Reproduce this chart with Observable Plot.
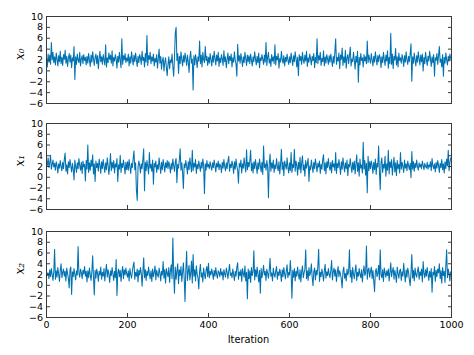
<!DOCTYPE html>
<html><head><meta charset="utf-8">
<script src="https://cdn.jsdelivr.net/npm/d3@7"></script>
<script src="https://cdn.jsdelivr.net/npm/@observablehq/plot@0.6"></script>
<style>
body{margin:0;background:#fff}
#c{position:relative;width:474px;height:355px}
#c svg{position:absolute;left:0}
</style>
</head><body><div id="c"></div>
<script>
// Trace values, one value every 2 iterations (iteration = index * step)
const step = 2;
const x0 = [
2.4,0.7,3.1,1.6,2.9,1.2,5.2,2.0,3.4,1.5, 2.6,1.1,3.3,2.2,0.9,2.8,1.7,3.6,1.3,2.5, 1.0,3.0,2.1,3.8,1.4,2.7,0.8,2.3,3.2,1.6, 2.9,0.6,2.4,1.8,4.5,-1.6,2.6,1.2,3.1,2.0, 1.5,3.4,0.9,2.2,2.8,1.3,3.0,1.9,2.5,1.1,
2.7,1.4,3.2,2.0,0.8,2.9,1.6,3.5,2.2,1.0, 2.5,3.1,1.3,2.8,0.4,2.3,3.6,1.7,2.6,1.2, 3.0,2.0,1.1,4.8,0.7,2.4,1.5,3.3,2.1,2.9, 1.4,3.7,0.9,2.5,1.8,3.0,2.2,0.5,2.7,1.6, 3.4,1.9,0.6,5.9,1.2,2.8,2.0,3.2,1.5,2.4,
1.8,3.1,0.9,2.6,1.4,3.5,2.2,1.1,2.9,1.7, 3.3,2.0,0.8,2.7,1.5,3.0,2.4,1.2,3.6,1.9, 2.5,0.7,3.2,1.6,6.5,1.0,2.8,2.1,3.4,1.3, 2.6,1.8,3.1,0.9,2.3,1.6,3.0,0.5,2.2,4.0, 1.4,2.7,0.3,1.9,2.5,0.0,1.6,2.4,0.6,-0.9,
1.2,2.6,0.4,2.0,1.5,3.1,0.8,-1.0,2.4,7.0, 8.0,1.9,3.2,-0.5,2.7,1.3,3.5,2.1,0.9,2.8, 1.6,3.3,2.3,1.0,2.9,1.7,-0.3,2.5,3.6,1.4, 2.2,-3.5,2.8,1.1,3.0,2.0,0.6,2.6,1.8,5.5, 1.3,2.9,0.7,3.4,2.1,1.5,4.5,1.9,2.7,1.0,
2.5,1.4,3.2,2.0,0.9,2.8,1.6,3.6,2.3,1.1, 2.9,1.8,3.4,0.8,2.4,1.5,3.0,2.2,1.0,3.7, 1.7,2.6,0.6,2.1,3.3,1.3,2.7,1.9,3.1,0.7, 2.4,1.6,3.5,2.0,1.2,-1.0,4.9,1.8,2.8,1.4, 3.2,2.1,0.8,2.6,1.5,3.4,2.3,1.0,2.9,1.7,
2.8,1.3,3.1,2.0,0.9,2.6,1.7,3.5,2.2,1.1, 2.7,1.5,3.3,0.6,2.4,1.9,3.0,2.1,1.2,2.9, 1.6,5.2,1.0,2.5,3.4,1.4,2.2,0.8,3.0,1.8, 2.6,1.3,4.8,1.1,2.7,2.0,3.2,0.5,2.3,1.6, 3.6,2.1,1.4,2.8,0.9,2.5,1.7,3.1,2.0,1.2,
2.6,1.5,3.3,2.1,1.0,2.8,1.7,3.5,2.3,0.7, 2.5,-0.9,3.0,1.9,2.7,1.2,3.4,2.0,1.4,2.9, 1.8,3.6,0.8,2.4,1.6,3.1,2.2,1.1,2.7,1.9, 3.2,0.6,2.5,1.5,5.9,1.3,2.8,2.0,3.4,1.0, 2.3,1.7,3.7,0.9,2.6,1.4,3.0,2.2,1.2,2.8,
1.6,3.1,2.0,0.8,2.7,1.4,3.5,5.9,1.2,2.5, 1.8,3.3,0.4,2.9,2.1,4.2,1.0,2.6,1.5,3.8, 0.5,2.4,3.0,1.3,2.8,4.4,0.9,2.2,1.7,3.4, 2.0,0.3,2.7,1.6,3.6,-2.1,2.5,1.1,3.2,1.9, 2.4,0.7,3.0,1.8,2.6,1.3,5.5,1.5,2.9,2.1,
1.4,3.2,2.0,0.9,2.7,1.6,3.5,2.2,1.1,2.8, 1.7,3.0,2.4,0.6,2.6,1.5,3.4,2.1,1.0,2.9, 1.8,3.7,0.5,2.5,1.3,6.9,1.2,3.1,0.4,2.7, 2.0,4.1,1.1,2.6,0.7,3.3,1.9,2.4,1.4,3.0, 2.2,0.8,2.8,1.6,3.5,2.0,1.2,2.7,1.7,3.2,
5.0,-1.9,2.6,1.4,3.3,2.0,0.9,2.8,1.6,3.5, 2.2,1.1,2.9,1.7,3.1,0.0,2.5,1.3,3.4,2.1, 1.0,2.7,1.8,3.6,2.3,0.8,2.6,1.5,3.0,-1.0, 2.4,1.9,3.2,1.2,2.8,4.5,1.6,2.2,0.7,3.0, -1.0,2.5,1.4,3.3,2.0,1.1,2.7,1.8,3.1,2.3
];
const x1 = [
3.0,2.2,3.6,1.8,2.7,4.1,1.5,2.4,3.2,1.9, 2.6,1.3,2.9,2.1,0.8,2.5,1.7,3.1,2.0,1.2, 2.8,1.6,3.4,4.5,1.1,2.3,0.6,2.9,1.8,3.3, 2.1,1.0,2.6,1.5,-0.5,3.2,2.0,0.9,2.7,1.6, 3.5,2.2,1.3,2.8,0.7,3.0,1.9,2.4,-0.7,3.1,
1.5,6.0,0.9,2.7,1.3,3.2,2.0,4.2,0.6,2.5, -0.8,3.0,1.8,2.6,1.1,3.4,2.2,0.7,2.9,1.6, 3.3,2.0,0.9,2.7,1.4,3.6,2.3,0.5,2.1,4.4, 1.2,2.8,1.7,3.1,0.8,2.5,1.9,3.5,-0.8,2.3, 1.5,4.1,0.9,2.6,1.8,3.2,2.1,0.6,2.8,1.4,
2.9,1.3,3.3,2.0,0.7,2.6,1.8,3.5,4.9,1.4, 2.7,-2.4,-4.3,1.9,3.0,2.2,0.8,2.5,1.6,3.4, 5.3,-2.5,2.8,1.2,3.1,2.0,0.6,4.6,1.7,2.4, 1.1,3.2,-1.3,2.6,1.9,3.0,0.9,2.3,1.5,3.6, 2.1,0.7,2.8,1.4,3.3,2.2,1.0,2.7,1.8,3.1,
1.6,2.9,2.1,0.8,2.6,1.5,3.4,2.2,1.1,2.8, 3.5,-1.0,2.4,1.7,3.2,5.3,1.3,2.7,0.9,-2.1, 2.5,1.8,3.1,2.0,0.6,2.9,1.4,3.6,2.3,1.0, 5.0,1.2,2.6,1.9,3.3,0.7,2.4,1.6,3.0,2.1, 1.1,2.8,1.7,3.4,2.2,-3.0,2.5,1.3,3.1,1.9,
2.4,1.6,2.9,2.0,1.3,2.7,1.8,3.2,2.2,1.0, 2.6,1.9,3.0,1.4,2.5,2.1,0.9,2.8,1.7,3.3, 2.0,1.2,2.7,1.6,3.1,3.9,1.1,2.4,1.8,3.0, 2.2,0.7,2.9,1.5,3.4,2.0,1.3,-1.1,2.6,1.9, 3.2,0.8,2.5,1.7,3.6,2.1,1.0,5.1,1.4,2.8,
1.9,3.0,5.0,1.2,2.6,0.8,2.9,1.6,3.3,2.1, 0.7,2.7,1.5,3.4,2.2,1.0,2.8,0.5,5.8,1.8, 2.5,1.3,3.1,2.0,-3.8,2.4,4.3,1.1,2.7,1.7, 3.2,0.9,2.3,1.6,3.5,2.0,1.2,2.9,0.6,2.5, 5.2,1.4,2.8,0.3,3.0,2.2,1.5,3.6,1.9,0.8,
2.7,1.2,4.6,0.9,2.4,1.8,5.2,1.1,3.0,2.2, 0.4,2.8,1.5,3.7,0.8,2.6,4.0,1.3,2.3,0.2, 3.1,1.7,2.5,3.5,-0.8,2.1,1.4,3.2,2.0,0.9, 2.8,1.6,3.4,2.2,1.0,2.6,1.9,3.0,0.7,2.4, 1.5,3.3,4.2,1.2,2.7,0.6,2.9,1.8,3.5,2.0,
1.3,2.8,0.8,3.1,1.9,2.5,1.2,4.6,0.7,2.6, 1.8,3.3,2.1,0.5,2.9,1.5,3.6,2.2,1.0,2.7, 1.6,3.2,0.3,2.4,1.9,3.5,2.0,0.9,2.8,1.4, 3.0,0.6,2.5,4.2,1.1,2.7,0.2,3.4,1.7,2.3, 0.8,6.5,1.5,3.1,0.4,2.6,-2.9,3.9,1.2,2.9,
1.6,3.0,2.2,0.7,2.8,1.4,3.4,0.5,2.6,1.9, 5.8,1.1,-2.3,2.7,3.6,0.9,2.4,1.7,3.9,0.2, 2.5,1.3,5.0,0.6,2.9,1.8,3.3,0.4,2.2,3.7, 1.0,2.7,0.3,3.1,1.6,2.4,0.8,4.6,1.5,2.8, 2.0,0.9,3.2,1.7,2.5,1.2,3.0,2.1,1.4,2.6,
-0.1,4.8,1.5,2.9,1.1,2.6,1.8,3.2,2.0,1.3, 2.7,1.9,2.4,1.6,3.0,2.2,1.4,2.6,2.0,1.7, 2.8,1.5,2.3,1.9,2.9,1.2,3.5,2.1,1.6,2.5, 1.0,2.8,1.7,3.1,2.2,0.9,2.6,1.8,3.3,1.4, 2.5,0.8,2.9,1.6,3.4,2.1,5.0,1.2,2.7,3.6
];
const x2 = [
2.6,1.8,2.3,1.2,2.9,1.6,3.1,2.0,0.9,2.5, 6.7,1.1,2.7,1.5,3.3,2.1,0.7,2.8,4.0,1.4, 2.4,3.0,1.7,2.6,0.8,3.2,2.2,1.3,-0.5,2.9, 3.4,-1.7,2.5,1.6,3.1,2.0,1.0,2.7,1.9,7.2, 2.3,1.5,3.0,2.4,1.2,2.8,2.1,3.5,1.7,2.6,
0.6,2.7,1.4,3.2,2.0,0.9,2.5,5.5,1.6,-1.8, 2.8,1.3,3.0,2.2,0.7,2.6,1.9,3.4,1.1,2.4, 1.7,3.1,0.8,2.5,3.9,1.5,2.9,2.0,0.5,2.7, 1.8,3.3,2.1,0.9,2.6,1.4,4.8,-1.9,2.3,3.0, 1.6,2.8,0.7,2.4,3.5,1.2,2.9,1.9,3.2,2.1,
1.5,2.7,0.8,3.1,2.0,1.3,2.6,3.6,4.3,1.1, 2.4,1.7,3.0,0.6,2.8,1.9,3.3,2.2,-0.2,2.5, 5.1,1.4,2.9,0.9,2.6,1.8,3.4,2.1,1.2,2.7, 0.7,3.0,1.6,2.4,3.6,1.0,2.8,2.0,1.5,3.2, 2.3,0.8,2.6,1.9,4.4,1.3,2.9,0.4,3.1,2.2,
1.6,3.3,0.5,2.7,3.8,1.2,8.8,2.0,-1.5,3.4, 1.1,2.6,4.0,0.3,2.9,1.8,3.5,0.7,2.4,4.2, 1.3,-3.0,2.8,6.3,0.9,2.5,3.7,1.0,2.2,4.5, 0.4,5.7,1.7,2.9,0.8,3.6,2.1,1.4,-0.7,2.6, 3.9,1.5,2.3,0.6,3.2,2.0,1.2,2.8,3.5,1.6,
4.1,1.4,2.6,1.9,3.0,2.2,1.1,2.8,1.7,3.3, 2.0,1.3,2.7,2.3,1.6,3.1,1.9,2.5,1.0,2.9, 2.1,1.5,3.2,2.4,1.2,2.7,3.9,1.8,2.3,1.4, 3.0,2.0,0.9,2.6,1.7,3.4,4.2,1.1,2.5,1.8, 2.9,0.7,3.1,2.2,1.5,3.6,0.8,2.4,-2.5,3.0,
1.2,2.7,0.5,3.3,1.8,2.5,6.4,1.0,2.9,1.6, 3.4,2.1,0.6,2.8,-1.5,3.1,1.4,2.4,3.7,1.9, 2.6,0.9,3.0,2.2,1.3,2.8,5.0,1.7,2.3,0.8, 3.2,2.0,1.5,2.7,3.5,1.1,2.5,1.8,3.0,2.2, 0.7,2.9,1.6,3.3,2.1,1.2,2.6,3.8,1.4,2.4,
1.9,4.6,2.2,-2.4,2.8,1.5,3.1,0.8,2.6,1.7, 3.4,2.0,1.1,2.9,0.6,2.5,3.6,1.4,2.3,3.0, 6.6,1.2,2.7,0.9,3.3,1.8,2.4,4.0,1.5,-0.1, 2.6,3.2,1.0,2.8,1.9,3.5,6.7,0.7,2.4,1.6, 3.0,2.1,0.8,2.7,3.9,1.3,2.5,1.8,3.1,2.0,
1.4,2.8,4.6,1.0,2.5,3.2,1.7,2.9,0.7,2.3, 3.5,1.6,2.7,2.0,1.1,-0.5,2.6,3.4,1.3,2.2, 0.8,3.0,1.9,2.6,6.6,1.5,2.8,0.5,3.3,2.1, 1.2,2.7,3.8,0.9,2.4,1.7,3.1,2.0,1.4,2.9, 0.6,2.5,3.6,1.8,2.3,7.3,1.1,2.8,3.2,1.5,
2.6,3.4,1.2,2.8,0.9,-1.2,2.5,3.1,1.6,2.2, 3.7,1.0,6.6,2.0,1.4,2.9,0.7,3.2,2.3,1.5, 2.7,1.8,3.0,0.8,2.4,4.2,1.6,2.6,3.3,1.1, 2.8,1.9,0.5,3.4,2.2,1.3,2.7,3.0,0.9,2.5, 1.7,4.1,2.1,0.6,2.9,1.5,3.2,2.4,1.0,-0.1,
2.4,5.7,1.3,2.8,0.8,3.2,2.0,1.5,2.7,3.4, 1.1,2.5,1.8,3.0,0.6,4.4,2.2,1.4,2.9,1.7, 3.3,2.1,0.9,2.6,1.5,3.1,-1.3,2.4,1.9,3.5, 0.7,2.8,1.6,3.0,2.3,4.0,1.2,2.7,0.4,3.3, 1.8,2.6,0.5,3.6,6.6,1.4,3.0,2.2,0.8,2.5
];
const series = [x0, x1, x2];
const seriesLabels = ["x\u2080", "x\u2081", "x\u2082"];
const xTicks = [0, 200, 400, 600, 800, 1000];
const yTicks = [-6, -4, -2, 0, 2, 4, 6, 8, 10];
const xLabel = "Iteration";

const lineColor = "#0072B2";
const frameColor = "#3a3a3a";
const panels = [
  {top: 0,   height: 109, mt: 16, mb: 6},
  {top: 109, height: 106, mt: 14, mb: 6},
  {top: 215, height: 140, mt: 16, mb: 38}
];

const container = document.getElementById("c");
series.forEach((vals, k) => {
  const p = panels[k];
  const last = k === series.length - 1;
  const data = vals.map((v, i) => ({it: i * step, v}));
  const plot = Plot.plot({
    width: 474, height: p.height,
    marginLeft: 46, marginRight: 23, marginTop: p.mt, marginBottom: p.mb,
    style: {fontFamily: "DejaVu Sans", fontSize: "9.5px", color: "#000", background: "transparent", overflow: "visible"},
    x: {domain: [0, 1000], label: null},
    y: {domain: [-6, 10], label: null},
    marks: [
      Plot.lineY(data, {x: "it", y: "v", stroke: lineColor, strokeWidth: 1.05}),
      Plot.frame({stroke: frameColor, strokeWidth: 1}),
      Plot.axisY(yTicks, {anchor: "left", tickSize: 0, tickPadding: 3.5, fontSize: 9.5, label: null}),
      Plot.axisY(yTicks, {anchor: "left", tickSize: -4, tickFormat: () => "", stroke: frameColor, label: null}),
      Plot.axisY(yTicks, {anchor: "right", tickSize: -4, tickFormat: () => "", stroke: frameColor, label: null}),
      Plot.axisX(xTicks, {anchor: "bottom", tickSize: -4, tickFormat: () => "", stroke: frameColor, label: null}),
      Plot.axisX(xTicks, {anchor: "top", tickSize: -4, tickFormat: () => "", stroke: frameColor, label: null}),
      last ? Plot.axisX(xTicks, {anchor: "bottom", tickSize: 0, tickPadding: 4, fontSize: 9.5, tickFormat: d => String(d), label: null}) : null,
      Plot.text([seriesLabels[k]], {frameAnchor: "left", dx: -26, rotate: -90, text: d => d, fontFamily: "DejaVu Serif", fontStyle: "italic", fontSize: 12})
    ]
  });
  plot.style.top = p.top + "px";
  container.appendChild(plot);
});
// x axis title
const lbl = document.createElement("div");
lbl.textContent = xLabel;
lbl.style.cssText = "position:absolute;left:46px;width:405px;top:334px;text-align:center;font:9.8px 'DejaVu Sans';color:#000";
container.appendChild(lbl);
</script>
</body></html>
